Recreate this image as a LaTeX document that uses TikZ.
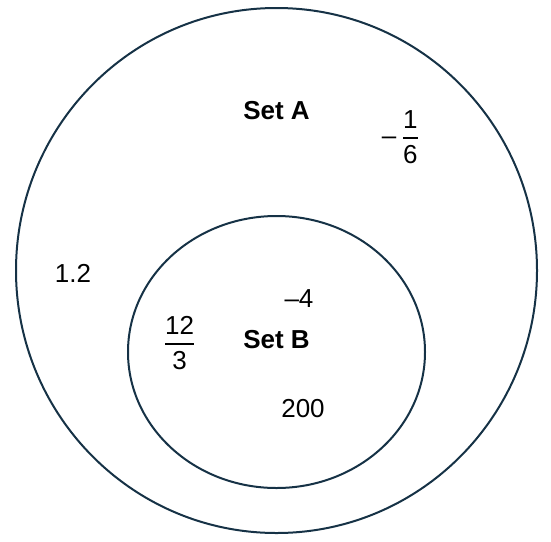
\documentclass[tikz,border=0pt]{standalone}
\usepackage{amsmath}
\usepackage{fontspec}
\setmainfont{Liberation Sans}
\definecolor{vennline}{RGB}{22,50,70}
\newcommand{\vennfont}{\fontsize{13}{15}\selectfont}
\newcommand{\vfrac}[2]{\ensuremath{\genfrac{}{}{1pt}{0}{\hbox{#1}}{\hbox{#2}}}}
\tikzset{
  setline/.style={draw=vennline,line width=1pt},
  setlabel/.style={font=\vennfont\bfseries},
  elem/.style={font=\vennfont,inner sep=0pt}
}
\begin{document}
\begin{tikzpicture}[x=0.5pt,y=-0.5pt]
\useasboundingbox (0,0) rectangle (551,541);
\draw[setline] (276.5,270.5) ellipse [x radius=130.25pt, y radius=131.25pt];
\draw[setline] (276.5,352) ellipse [x radius=74.25pt, y radius=68pt];

\node[setlabel] (A) at (276.5,111) {Set A};
\node[setlabel] (B) at (276.5,340) {Set B};

\node[elem] (sixth) at (401,137) {–\,\vfrac{1}{6}};
\node[elem] (onetwo) at (73,273) {1.2};
\node[elem] (negfour) at (299,299) {–4};
\node[elem] (twelve) at (179.6,343) {\vfrac{12}{3}};
\node[elem] (twohund) at (303,409) {200};
\end{tikzpicture}
\end{document}
